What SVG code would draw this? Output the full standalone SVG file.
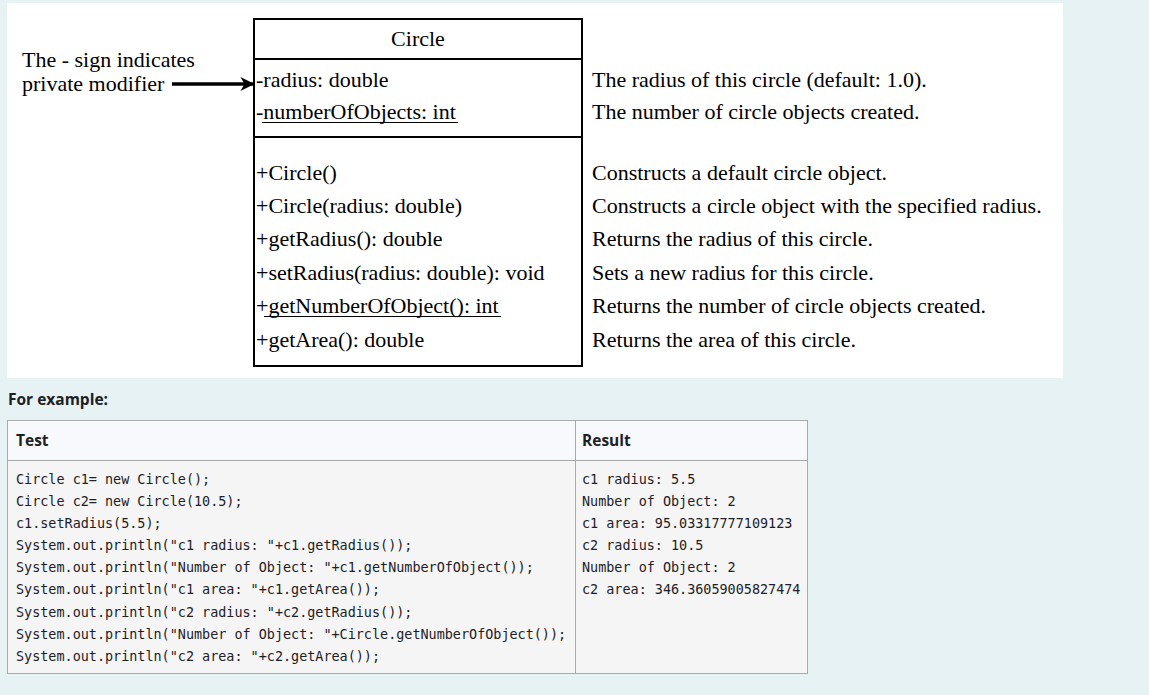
<svg xmlns="http://www.w3.org/2000/svg" width="1149" height="695" viewBox="0 0 1149 695">
<style>
.s{font-family:"Liberation Serif","Times New Roman",serif;font-size:22px;fill:#000}
.m{font-family:"DejaVu Sans Mono","Liberation Mono",monospace;font-size:13.45px;fill:#1d2125}
.h{font-family:"Open Sans","Noto Sans","Liberation Sans",sans-serif;font-size:15.5px;font-weight:bold;fill:#1d2125}
.u{stroke:#000;stroke-width:1.2}
</style>
<defs>
<marker id="ah" viewBox="0 0 10 10" refX="9" refY="5" markerWidth="4" markerHeight="4" orient="auto" markerUnits="strokeWidth">
<path d="M0,0 L10,5 L0,10 L3,5 Z" fill="#000"/>
</marker>
</defs>
<rect width="1149" height="695" fill="#e7f2f4"/>
<rect x="7" y="3" width="1056" height="375" fill="#fff"/>
<g id="note">
<text class="s" x="22" y="67">The - sign indicates</text>
<text class="s" x="22" y="91">private modifier</text>
</g>
<g id="circle-class">
<rect x="254" y="19" width="328" height="347" fill="#fff" stroke="#000" stroke-width="2"/>
<line x1="254" y1="59" x2="582" y2="59" stroke="#000" stroke-width="2"/>
<line x1="254" y1="137" x2="582" y2="137" stroke="#000" stroke-width="2"/>
<text class="s" x="418" y="46" text-anchor="middle">Circle</text>
<text class="s" x="256" y="87">-radius: double</text>
<text class="s" x="256" y="119">-numberOfObjects: int</text>
<line class="u" x1="262" y1="122.5" x2="458" y2="122.5"/>
<text class="s" x="256" y="180">+Circle()</text>
<text class="s" x="256" y="213">+Circle(radius: double)</text>
<text class="s" x="256" y="246">+getRadius(): double</text>
<text class="s" x="256" y="280">+setRadius(radius: double): void</text>
<text class="s" x="256" y="313">+getNumberOfObject(): int</text>
<line class="u" x1="264" y1="316.5" x2="501" y2="316.5"/>
<text class="s" x="256" y="347">+getArea(): double</text>
</g>
<g id="descriptions">
<text class="s" x="592" y="87">The radius of this circle (default: 1.0).</text>
<text class="s" x="592" y="119">The number of circle objects created.</text>
<text class="s" x="592" y="180">Constructs a default circle object.</text>
<text class="s" x="592" y="213">Constructs a circle object with the specified radius.</text>
<text class="s" x="592" y="246">Returns the radius of this circle.</text>
<text class="s" x="592" y="280">Sets a new radius for this circle.</text>
<text class="s" x="592" y="313">Returns the number of circle objects created.</text>
<text class="s" x="592" y="347">Returns the area of this circle.</text>
</g>
<g id="connectors">
<line x1="172" y1="84" x2="253" y2="84" stroke="#000" stroke-width="3.5" marker-end="url(#ah)"/>
</g>
<g id="example">
<text class="h" x="8" y="405">For example:</text>
<rect x="7.5" y="420.5" width="800" height="253" fill="#f5f5f5" stroke="#aaa"/>
<rect x="8" y="421" width="799" height="39" fill="#f8f9fc"/>
<line x1="7.5" y1="460.5" x2="807.5" y2="460.5" stroke="#aaa"/>
<line x1="575.5" y1="420.5" x2="575.5" y2="673.5" stroke="#aaa"/>
<text class="h" x="16" y="446">Test</text>
<text class="h" x="582" y="446">Result</text>
<text class="m" x="16" y="484">Circle c1= new Circle();</text>
<text class="m" x="16" y="506">Circle c2= new Circle(10.5);</text>
<text class="m" x="16" y="528">c1.setRadius(5.5);</text>
<text class="m" x="16" y="550">System.out.println("c1 radius: "+c1.getRadius());</text>
<text class="m" x="16" y="572">System.out.println("Number of Object: "+c1.getNumberOfObject());</text>
<text class="m" x="16" y="594">System.out.println("c1 area: "+c1.getArea());</text>
<text class="m" x="16" y="617">System.out.println("c2 radius: "+c2.getRadius());</text>
<text class="m" x="16" y="639">System.out.println("Number of Object: "+Circle.getNumberOfObject());</text>
<text class="m" x="16" y="661">System.out.println("c2 area: "+c2.getArea());</text>
<text class="m" x="582" y="484">c1 radius: 5.5</text>
<text class="m" x="582" y="506">Number of Object: 2</text>
<text class="m" x="582" y="528">c1 area: 95.03317777109123</text>
<text class="m" x="582" y="550">c2 radius: 10.5</text>
<text class="m" x="582" y="572">Number of Object: 2</text>
<text class="m" x="582" y="594">c2 area: 346.36059005827474</text>
</g>
</svg>
